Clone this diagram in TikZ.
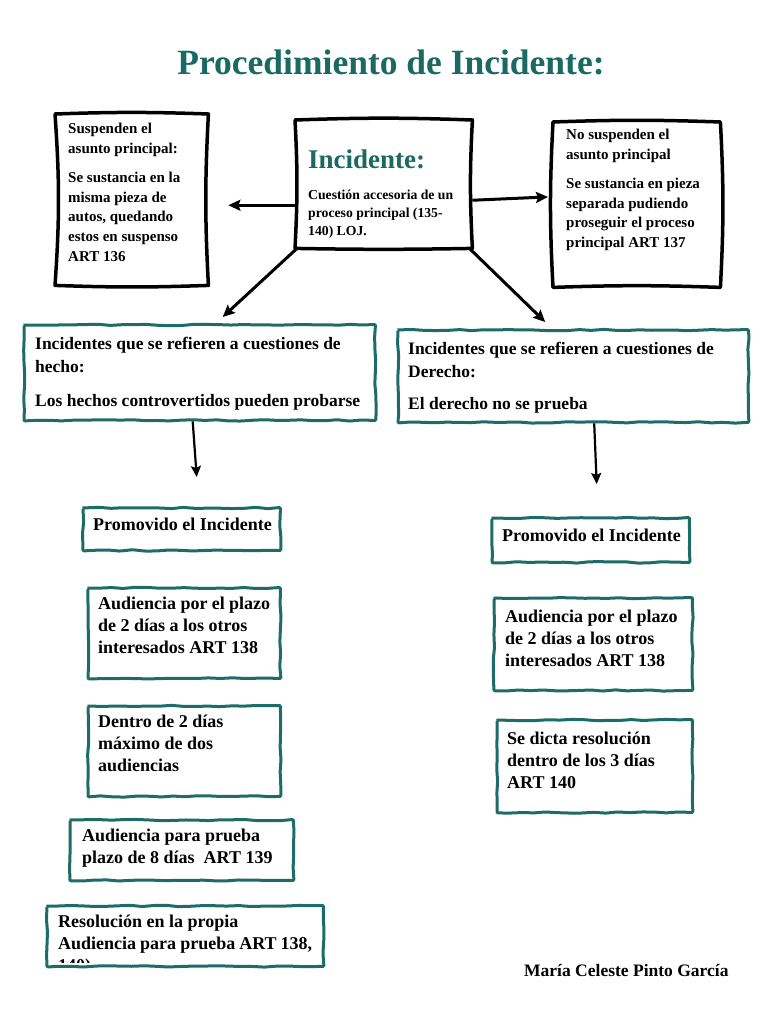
\documentclass[tikz,border=0pt]{standalone}
\usepackage{fontspec}
\setmainfont{Liberation Serif}
\usetikzlibrary{arrows.meta,calc,decorations.pathmorphing}
\definecolor{tealc}{HTML}{1D6C67}
\definecolor{titlec}{HTML}{1A6A63}
\newcommand{\pbx}[4]{\parbox[t][#2][t]{#1}{\raggedright\setlength{\parskip}{#3}#4}}
\tikzset{
  boxnode/.style={anchor=north west, inner sep=0pt, draw=none, align=left},
  smallfont/.style={font=\fontsize{15}{19.8}\selectfont\bfseries},
  midfont/.style={font=\fontsize{17.5}{23}\selectfont\bfseries},
  lowfont/.style={font=\fontsize{18}{22}\selectfont\bfseries},
  tframe/.style={draw=tealc, line width=3pt, line join=round,
    decorate, decoration={random steps, segment length=12pt, amplitude=0.7pt}, rounded corners=1pt},
  bframe/.style={draw=black, line width=3.5pt, line join=round, line cap=round},
  arrbig/.style={line width=3pt, -{Stealth[length=12pt,width=11pt,inset=2pt]}},
  arrsmall/.style={line width=2.2pt, -{Stealth[length=11pt,width=10pt,inset=2pt]}},
}
\begin{document}
\begin{tikzpicture}[x=1pt,y=-1pt]
\pgfmathsetseed{7}
\useasboundingbox (0,0) rectangle (768,1024);
\fill[white] (0,0) rectangle (768,1024);

% title
\node[font=\fontsize{35.5}{40}\selectfont\bfseries, text=titlec, anchor=base, inner sep=0pt] (title) at (391,75) {Procedimiento de Incidente:};

% top-left box
\node[boxnode, smallfont, inner xsep=13pt, inner ysep=9pt] (sl) at (55,114)
  {\pbx{127pt}{153pt}{9pt}{Suspenden el\\asunto principal:\par Se sustancia en la\\misma pieza de\\autos, quedando\\estos en suspenso\\ART 136}};
\draw[bframe] (sl.north west) to[bend left=2] (sl.north east) to[bend right=3] (sl.south east)
  to[bend left=2] (sl.south west) to[bend right=4] (sl.north west);

% incidente box
\node[boxnode, font=\fontsize{13.7}{18}\selectfont\bfseries, inner xsep=13pt, inner ysep=17pt] (inc) at (295,120)
  {\pbx{151pt}{94pt}{13pt}{{\fontsize{27}{30}\selectfont\color{titlec}Incidente:\par}Cuestión accesoria de un\\proceso principal (135-\\140) LOJ.}};
\draw[bframe] (inc.north west) to[bend left=2] (inc.north east) to[bend right=3] (inc.south east)
  to[bend left=1] (inc.south west) to[bend right=3] (inc.north west);

% top-right box
\node[boxnode, smallfont, inner xsep=13pt, inner ysep=7pt] (sr) at (553,122)
  {\pbx{141pt}{151pt}{9pt}{No suspenden el\\asunto principal\par Se sustancia en pieza\\separada pudiendo\\proseguir el proceso\\principal ART 137}};
\draw[bframe] (sr.north west) to[bend left=2] (sr.north east) to[bend left=3] (sr.south east)
  to[bend right=2] (sr.south west) to[bend left=3] (sr.north west);

% middle boxes
\node[boxnode, midfont, inner xsep=11pt, inner ysep=12pt] (hecho) at (24,325)
  {\pbx{329pt}{71pt}{11pt}{Incidentes que se refieren a cuestiones de\\hecho:\par Los hechos controvertidos pueden probarse}};
\draw[tframe] (hecho.north west) rectangle (hecho.south east);

\node[boxnode, midfont, inner xsep=10pt, inner ysep=12pt] (der) at (398,330)
  {\pbx{330pt}{68pt}{9pt}{Incidentes que se refieren a cuestiones de\\Derecho:\par El derecho no se prueba}};
\draw[tframe] (der.north west) rectangle (der.south east);

% left column
\node[boxnode, lowfont, inner xsep=10pt, inner ysep=10pt] (l1) at (83,508)
  {\pbx{177pt}{22pt}{0pt}{\mbox{Promovido el Incidente}}};
\draw[tframe] (l1.north west) rectangle (l1.south east);

\node[boxnode, lowfont, inner xsep=10pt, inner ysep=9pt] (l2) at (88,588)
  {\pbx{172pt}{72pt}{0pt}{Audiencia por el plazo\\de 2 días a los otros\\interesados ART 138}};
\draw[tframe] (l2.north west) rectangle (l2.south east);

\node[boxnode, lowfont, inner xsep=10pt, inner ysep=9pt] (l3) at (88,706)
  {\pbx{172pt}{72pt}{0pt}{Dentro de 2 días\\máximo de dos\\audiencias}};
\draw[tframe] (l3.north west) rectangle (l3.south east);

\node[boxnode, lowfont, inner xsep=12pt, inner ysep=9pt] (l4) at (70,820)
  {\pbx{199pt}{42pt}{0pt}{Audiencia para prueba\\plazo de 8 días~ ART 139}};
\draw[tframe] (l4.north west) rectangle (l4.south east);

\begin{scope}
\clip (40,900) rectangle (330,962);
\node[boxnode, lowfont, inner xsep=11pt, inner ysep=9pt] (l5) at (47,906)
  {\pbx{254pt}{42pt}{0pt}{Resolución en la propia\\Audiencia para prueba ART 138,\\140).}};
\end{scope}
\draw[tframe] (l5.north west) rectangle (l5.south east);

% right column
\node[boxnode, lowfont, inner xsep=10pt, inner ysep=11pt] (r1) at (492,518)
  {\pbx{177pt}{22pt}{0pt}{\mbox{Promovido el Incidente}}};
\draw[tframe] (r1.north west) rectangle (r1.south east);

\node[boxnode, lowfont, inner xsep=11pt, inner ysep=12pt] (r2) at (494,598)
  {\pbx{176pt}{68pt}{0pt}{Audiencia por el plazo\\de 2 días a los otros\\interesados ART 138}};
\draw[tframe] (r2.north west) rectangle (r2.south east);

\node[boxnode, lowfont, inner xsep=10pt, inner ysep=12pt] (r3) at (497,720)
  {\pbx{175pt}{68pt}{0pt}{Se dicta resolución\\dentro de los 3 días\\ART 140}};
\draw[tframe] (r3.north west) rectangle (r3.south east);

% signature
\node[font=\fontsize{17.5}{20}\selectfont\bfseries, anchor=base west, inner sep=0pt] (sig) at (524,976) {María Celeste Pinto García};

% connectors
\coordinate (incL) at ($(inc.south west)!0.336!(inc.north west)$);
\coordinate (incR) at ($(inc.south east)!0.375!(inc.north east)$);
\draw[arrbig, shorten >=20pt] (incL) -- (incL -| sl.east);
\draw[arrbig, shorten >=5pt] (incR) -- ($(sr.west)+(0,-8)$);
\coordinate (tipHecho) at ($(hecho.north)+(23,-8)$);
\coordinate (tipDer) at ($(der.north)+(-28,-8)$);
\draw[arrbig] ($(inc.south west)+(2,0)$) -- (tipHecho);
\draw[arrbig] ($(inc.south east)+(-3,0)$) -- (tipDer);
\coordinate (downL) at ($(l1.north)+(15,-31)$);
\coordinate (downR) at ($(r1.north)+(6,-34)$);
\draw[arrsmall] ($(hecho.south)+(-7,1)$) -- (downL);
\draw[arrsmall] ($(der.south)+(21,1)$) -- (downR);
\end{tikzpicture}
\end{document}
